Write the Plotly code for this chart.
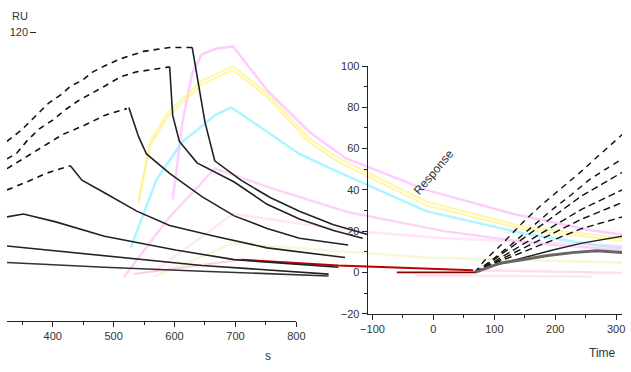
import plotly.graph_objects as go

# ---------------- Left panel (Time, s / Response, RU) ----------------
# black fitted curves: association (rise) and dissociation (fall)
c1_rise_t = [325, 349, 365, 394, 413, 429, 448, 466, 485, 509, 549, 592, 629]
c1_rise_v = [67.1, 72.7, 77.4, 85.8, 89.6, 93.8, 96.6, 100.8, 103.6, 106.9, 110.7, 112.6, 112.6]
c1_fall_t = [629, 639, 650, 666, 709, 757, 805, 861, 917]
c1_fall_v = [112.6, 95.2, 76.4, 57.7, 48.3, 39.9, 33.3, 26.7, 22.0]

c2_rise_t = [325, 341, 357, 378, 400, 421, 442, 466, 485, 512, 538, 570, 592]
c2_rise_v = [58.6, 61.4, 67.1, 73.2, 77.4, 82.5, 86.8, 90.5, 93.8, 98.5, 100.8, 102.2, 103.2]
c2_fall_t = [592, 594, 597, 608, 637, 698, 752, 805, 861, 909]
c2_fall_v = [103.2, 95.2, 79.7, 67.1, 56.7, 47.4, 36.6, 29.5, 23.9, 20.2]

c3_rise_t = [325, 346, 378, 416, 453, 485, 522]
c3_rise_v = [53.9, 57.7, 63.3, 70.4, 75.0, 79.7, 83.0]
c3_fall_t = [525, 533, 541, 554, 592, 645, 698, 752, 805, 885]
c3_fall_v = [83.5, 76.4, 69.4, 61.0, 51.6, 40.3, 31.0, 24.9, 20.2, 16.9]

c4_rise_t = [325, 357, 389, 429]
c4_rise_v = [43.6, 47.4, 51.6, 55.3]
c4_fall_t = [429, 437, 448, 485, 538, 592, 666, 752, 880]
c4_fall_v = [55.3, 52.1, 48.3, 42.2, 33.3, 26.3, 21.1, 15.5, 10.8]

c5_t = [325, 352, 405, 485, 602, 698, 869]
c5_v = [30.5, 31.9, 28.1, 21.1, 14.5, 9.8, 6.1]
c6_t = [325, 485, 645, 853]
c6_v = [16.4, 11.7, 7.0, 2.8]
c7_t = [325, 485, 645, 853]
c7_v = [8.4, 6.1, 4.2, 1.9]

# coloured measured curves
magenta_t = [597, 613, 629, 645, 669, 696, 752, 821, 880, 1013, 1157, 1285, 1335]
magenta_v = [39.0, 76.4, 99.9, 109.3, 112.1, 113.1, 91.9, 71.8, 59.1, 43.6, 31.9, 23.9, 22.0]
yellow_t = [541, 560, 589, 645, 696, 752, 821, 869, 1013, 1173, 1335]
yellow_v = [38.9, 67.1, 81.1, 96.6, 103.6, 90.5, 68.5, 59.1, 38.0, 25.8, 20.2]
yellow2_v = [37.0, 65.2, 79.2, 94.7, 101.7, 88.6, 66.6, 57.2, 36.1, 24.4, 19.0]
cyan_t = [528, 570, 613, 634, 666, 693, 752, 805, 853, 960, 1013, 1173, 1290, 1335]
cyan_v = [15.5, 48.3, 67.1, 71.8, 79.7, 83.5, 71.8, 61.0, 54.4, 40.3, 33.3, 22.5, 16.9, 15.5]
pink_t = [517, 589, 666, 768, 885, 1045, 1189, 1335]
pink_v = [1.4, 29.5, 53.9, 43.6, 32.8, 23.5, 17.8, 14.5]
lpink_t = [565, 696, 885, 1045, 1335]
lpink_v = [3.8, 31.9, 23.9, 20.2, 16.4]
pyellow_t = [565, 696, 1013, 1335]
pyellow_v = [1.4, 17.8, 10.8, 8.4]
redrise_t = [533, 709]
redrise_v = [2.8, 9.8]
red_t = [709, 869, 1090]
red_v = [9.8, 7.0, 4.7]
redtail_t = [1090, 1335]
redtail_v = [4.7, 3.3]

# ---------------- Right panel (Time / Response) ----------------
r_t = [68, 100, 148, 196, 244, 310]
r1_t = [68, 84, 111, 148, 175, 207, 239, 271, 310]
r1_v = [0, 5.8, 13.3, 24.6, 32.1, 40.0, 48.0, 56.5, 66.8]
r2_t = [68, 95, 127, 164, 196, 223, 255, 287, 310]
r2_v = [0, 5.8, 13.3, 22.7, 30.7, 36.8, 44.7, 50.8, 55.0]
r3_v = [0, 6.3, 16.6, 26.9, 37.2, 48.5]
r4_v = [0, 5.3, 13.8, 22.2, 30.7, 40.0]
r5_v = [0, 4.8, 11.9, 18.9, 25.9, 33.9]
r6_v = [0, 4.4, 10.0, 15.6, 21.3, 26.9]
r7_v = [0, 3.4, 7.1, 10.9, 14.2, 17.5]
r8_t = [68, 108, 148, 188, 228, 268, 310]
r8_v = [0, 4.4, 6.3, 8.2, 9.6, 10.5, 9.6]
base_t = [-60, 68]
base_v = [0, 0]
pale_t = [-30, 100, 260]
pale_v = [-1.5, -1.8, -2.0]

left_xticks = [400, 500, 600, 700, 800]
right_xticks = [-100, 0, 100, 200, 300]
right_yticks = [-20, 0, 20, 40, 60, 80, 100]

fig = go.Figure()


def add(x, y, color, width, dash="solid", xa="x", ya="y", opacity=1.0):
    fig.add_trace(go.Scatter(x=x, y=y, mode="lines", xaxis=xa, yaxis=ya,
                             line=dict(color=color, width=width, dash=dash, shape="linear"),
                             opacity=opacity, showlegend=False, hoverinfo="skip"))


# coloured data
add(magenta_t, magenta_v, "#ff9cff", 2.5, opacity=0.5)
add(yellow_t, yellow_v, "#fff27a", 2, opacity=0.65)
add(yellow_t, yellow2_v, "#fff27a", 2, opacity=0.65)
add(cyan_t, cyan_v, "#7ff2ff", 2.5, opacity=0.65)
add(pink_t, pink_v, "#ffa6f2", 2.5, opacity=0.5)
add(lpink_t, lpink_v, "#ffc8f0", 2.5, opacity=0.45)
add(pyellow_t, pyellow_v, "#f2f2b8", 2.5, opacity=0.55)
add(redrise_t, redrise_v, "#ffb0c8", 2, opacity=0.6)
add(red_t, red_v, "#c00000", 2)
add(redtail_t, redtail_v, "#ffc0d0", 2.5, opacity=0.5)

# black fits, left panel
for rt, rv, ft, fv in [(c1_rise_t, c1_rise_v, c1_fall_t, c1_fall_v),
                       (c2_rise_t, c2_rise_v, c2_fall_t, c2_fall_v),
                       (c3_rise_t, c3_rise_v, c3_fall_t, c3_fall_v),
                       (c4_rise_t, c4_rise_v, c4_fall_t, c4_fall_v)]:
    add(rt, rv, "#111111", 1.6, dash="6px,5px")
    add(ft, fv, "#222222", 1.6)
add(c5_t, c5_v, "#222222", 1.6)
add(c6_t, c6_v, "#222222", 1.6)
add(c7_t, c7_v, "#333333", 1.6)

# right panel
add(pale_t, pale_v, "#ffd0e0", 2.5, xa="x2", ya="y2", opacity=0.5)
add(base_t, base_v, "#8b0000", 1.8, xa="x2", ya="y2")
add(r1_t, r1_v, "#111111", 1.4, dash="6px,5px", xa="x2", ya="y2")
add(r2_t, r2_v, "#111111", 1.4, dash="6px,5px", xa="x2", ya="y2")
for v in [r3_v, r4_v, r5_v, r6_v]:
    add(r_t, v, "#111111", 1.4, dash="7px,4px", xa="x2", ya="y2")
add(r_t, r7_v, "#222222", 1.5, xa="x2", ya="y2")
add(r8_t, r8_v, "#666666", 3, xa="x2", ya="y2")

# placeholder to register the visible left time axis
fig.add_trace(go.Scatter(x=[], y=[], xaxis="x3", yaxis="y", showlegend=False, hoverinfo="skip"))

font = dict(family="Liberation Sans, Arial, sans-serif", size=11, color="#333333")
axis_common = dict(showgrid=False, zeroline=False, linecolor="#222222", linewidth=1,
                   ticks="outside", ticklen=5, tickcolor="#222222", tickfont=font)

fig.update_layout(
    width=631, height=372, margin=dict(l=0, r=0, t=0, b=0),
    paper_bgcolor="white", plot_bgcolor="rgba(0,0,0,0)",
    showlegend=False,
    xaxis=dict(domain=[0, 1], range=[325, 1334.6], visible=False),
    yaxis=dict(domain=[0.1263, 1], range=[-19.7, 132.7], anchor="free", position=0.0475,
               showgrid=False, zeroline=False, showline=False, ticks="outside", ticklen=6,
               tickcolor="#222222", tickvals=[120], tickfont=font),
    xaxis3=dict(domain=[0, 0.4707], range=[325, 800.2], anchor="y", showline=True,
                tickvals=left_xticks, minor=dict(dtick=50, ticks="outside", ticklen=3, tickcolor="#222222"),
                **axis_common),
    xaxis2=dict(domain=[0.5864, 1], range=[-108, 309.6], anchor="y2", showline=True,
                tickvals=right_xticks, minor=dict(dtick=50, ticks="outside", ticklen=3, tickcolor="#222222"),
                **axis_common),
    yaxis2=dict(domain=[0.1452, 0.8333], range=[-20, 100], anchor="x2", showline=True,
                tickvals=right_yticks, minor=dict(dtick=10, ticks="outside", ticklen=3, tickcolor="#222222"),
                **axis_common),
    annotations=[
        dict(text="RU", x=0.005, y=0.995, xref="paper", yref="paper", xanchor="left", yanchor="top",
             showarrow=False, font=font),
        dict(text="s", x=0.425, y=0.003, xref="paper", yref="paper", xanchor="center", yanchor="bottom",
             showarrow=False, font=dict(family=font["family"], size=12, color="#333333")),
        dict(text="Time", x=0.968, y=0.012, xref="paper", yref="paper", xanchor="center", yanchor="bottom",
             showarrow=False, font=dict(family=font["family"], size=12, color="#333333")),
        dict(text="Response", x=0.735, y=0.54, xref="paper", yref="paper", textangle=-50,
             showarrow=False, font=dict(family=font["family"], size=12, color="#333333")),
    ],
)

fig.write_html("out.html")
